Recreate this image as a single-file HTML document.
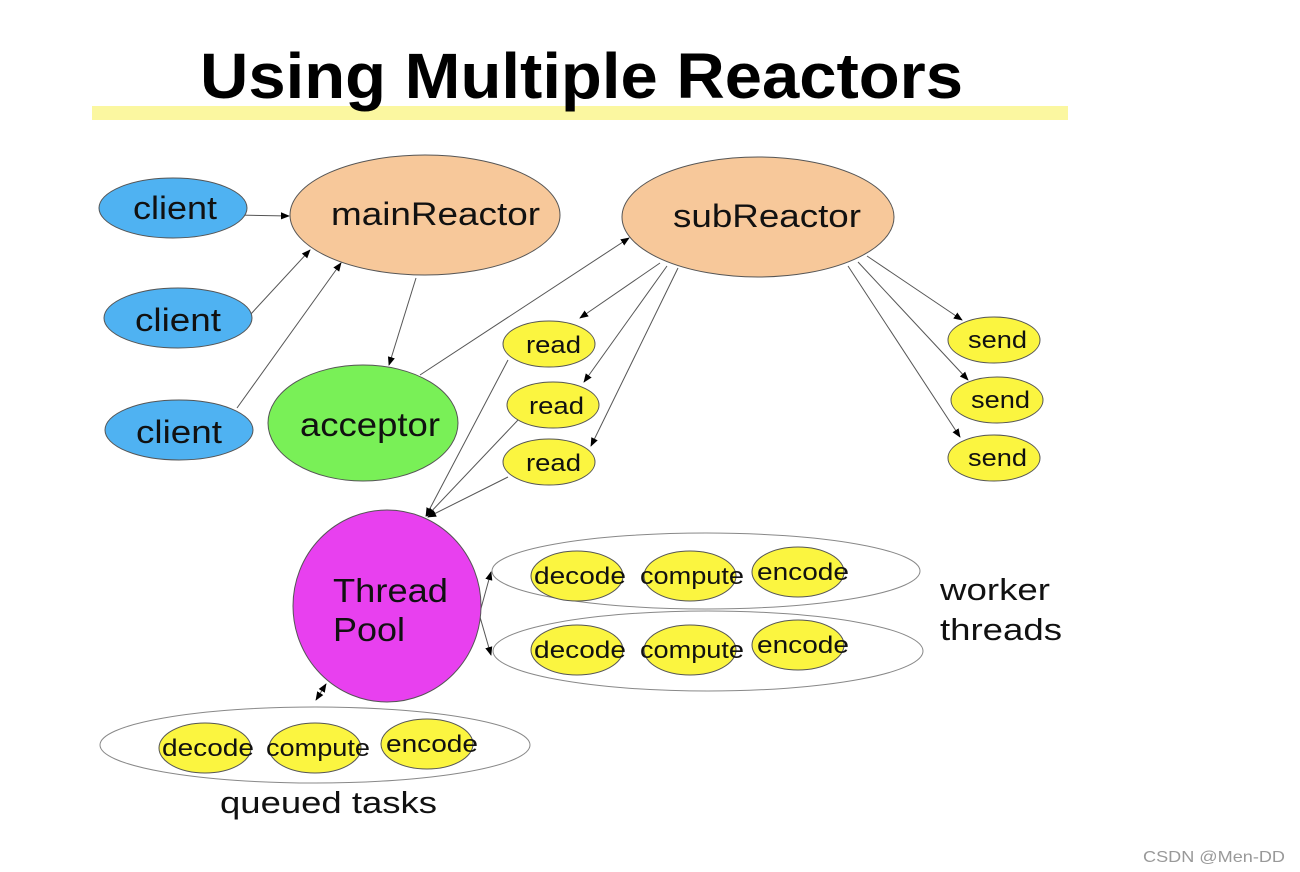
<!DOCTYPE html>
<html><head><meta charset="utf-8"><style>
html,body{margin:0;padding:0;background:#fff;}
svg{display:block;}
text{font-family:"Liberation Sans","DejaVu Sans",sans-serif;}
</style></head><body>
<svg width="1300" height="872" viewBox="0 0 1300 872" xmlns="http://www.w3.org/2000/svg">
<defs>
<marker id="a" viewBox="0 0 10 10" refX="9" refY="5" markerWidth="9" markerHeight="9" orient="auto-start-reverse" markerUnits="userSpaceOnUse">
<path d="M0,1 L10,5 L0,9 z" fill="#000"/></marker>
</defs>
<rect x="92" y="106" width="976" height="14" fill="#fbf7a0"/>
<text x="200" y="98" font-size="64" font-weight="bold" textLength="763" lengthAdjust="spacingAndGlyphs" fill="#000">Using Multiple Reactors</text>

<g stroke="#555" stroke-width="1" fill="none">
<line x1="235" y1="215" x2="289" y2="216" marker-end="url(#a)"/>
<line x1="250" y1="315" x2="310" y2="250" marker-end="url(#a)"/>
<line x1="237" y1="408" x2="341" y2="263" marker-end="url(#a)"/>
<line x1="416" y1="278" x2="389" y2="365" marker-end="url(#a)"/>
<line x1="420" y1="375" x2="629" y2="238" marker-end="url(#a)"/>
<line x1="660" y1="263" x2="580" y2="318" marker-end="url(#a)"/>
<line x1="667" y1="266" x2="584" y2="382" marker-end="url(#a)"/>
<line x1="678" y1="268" x2="591" y2="446" marker-end="url(#a)"/>
<line x1="508" y1="360" x2="426" y2="516" marker-end="url(#a)"/>
<line x1="518" y1="420" x2="427" y2="516" marker-end="url(#a)"/>
<line x1="508" y1="477" x2="428" y2="517" marker-end="url(#a)"/>
<line x1="867" y1="256" x2="962" y2="320" marker-end="url(#a)"/>
<line x1="858" y1="262" x2="968" y2="380" marker-end="url(#a)"/>
<line x1="848" y1="266" x2="960" y2="437" marker-end="url(#a)"/>
<line x1="480" y1="612" x2="491" y2="572" marker-end="url(#a)"/>
<line x1="480" y1="617" x2="491" y2="655" marker-end="url(#a)"/>
<line x1="326" y1="684" x2="316" y2="700" marker-end="url(#a)" marker-start="url(#a)"/>
</g>

<g stroke="#555" stroke-width="1">
<ellipse cx="173" cy="208" rx="74" ry="30" fill="#4fb2f2"/>
<ellipse cx="178" cy="318" rx="74" ry="30" fill="#4fb2f2"/>
<ellipse cx="179" cy="430" rx="74" ry="30" fill="#4fb2f2"/>
<ellipse cx="425" cy="215" rx="135" ry="60" fill="#f7c89a"/>
<ellipse cx="758" cy="217" rx="136" ry="60" fill="#f7c89a"/>
<ellipse cx="363" cy="423" rx="95" ry="58" fill="#79f057"/>
<ellipse cx="549" cy="344" rx="46" ry="23" fill="#fbf540"/>
<ellipse cx="553" cy="405" rx="46" ry="23" fill="#fbf540"/>
<ellipse cx="549" cy="462" rx="46" ry="23" fill="#fbf540"/>
<ellipse cx="994" cy="340" rx="46" ry="23" fill="#fbf540"/>
<ellipse cx="997" cy="400" rx="46" ry="23" fill="#fbf540"/>
<ellipse cx="994" cy="458" rx="46" ry="23" fill="#fbf540"/>
<ellipse cx="387" cy="606" rx="94" ry="96" fill="#e840ef"/>
<ellipse cx="706" cy="571" rx="214" ry="38" fill="#fff" stroke="#888"/>
<ellipse cx="708" cy="651" rx="215" ry="40" fill="#fff" stroke="#888"/>
<ellipse cx="315" cy="745" rx="215" ry="38" fill="#fff" stroke="#888"/>
<ellipse cx="577" cy="576" rx="46" ry="25" fill="#fbf540"/>
<ellipse cx="690" cy="576" rx="46" ry="25" fill="#fbf540"/>
<ellipse cx="798" cy="572" rx="46" ry="25" fill="#fbf540"/>
<ellipse cx="577" cy="650" rx="46" ry="25" fill="#fbf540"/>
<ellipse cx="690" cy="650" rx="46" ry="25" fill="#fbf540"/>
<ellipse cx="798" cy="645" rx="46" ry="25" fill="#fbf540"/>
<ellipse cx="205" cy="748" rx="46" ry="25" fill="#fbf540"/>
<ellipse cx="315" cy="748" rx="46" ry="25" fill="#fbf540"/>
<ellipse cx="427" cy="744" rx="46" ry="25" fill="#fbf540"/>
</g>

<g fill="#111" lengthAdjust="spacingAndGlyphs">
<text x="133" y="219" font-size="32" textLength="84" lengthAdjust="spacingAndGlyphs">client</text>
<text x="135" y="331" font-size="32" textLength="86" lengthAdjust="spacingAndGlyphs">client</text>
<text x="136" y="443" font-size="32" textLength="86" lengthAdjust="spacingAndGlyphs">client</text>
<text x="331" y="225" font-size="32" textLength="209" lengthAdjust="spacingAndGlyphs">mainReactor</text>
<text x="673" y="227" font-size="32" textLength="188" lengthAdjust="spacingAndGlyphs">subReactor</text>
<text x="300" y="436" font-size="33" textLength="140" lengthAdjust="spacingAndGlyphs">acceptor</text>
<text x="526" y="353" font-size="24" textLength="55" lengthAdjust="spacingAndGlyphs">read</text>
<text x="529" y="414" font-size="24" textLength="55" lengthAdjust="spacingAndGlyphs">read</text>
<text x="526" y="471" font-size="24" textLength="55" lengthAdjust="spacingAndGlyphs">read</text>
<text x="968" y="348" font-size="24" textLength="59" lengthAdjust="spacingAndGlyphs">send</text>
<text x="971" y="408" font-size="24" textLength="59" lengthAdjust="spacingAndGlyphs">send</text>
<text x="968" y="466" font-size="24" textLength="59" lengthAdjust="spacingAndGlyphs">send</text>
<text x="333" y="602" font-size="33" textLength="115" lengthAdjust="spacingAndGlyphs">Thread</text>
<text x="333" y="641" font-size="33" textLength="72" lengthAdjust="spacingAndGlyphs">Pool</text>
<g font-size="24">
<text x="534" y="584" textLength="92" lengthAdjust="spacingAndGlyphs">decode</text>
<text x="640" y="584" textLength="104" lengthAdjust="spacingAndGlyphs">compute</text>
<text x="757" y="580" textLength="92" lengthAdjust="spacingAndGlyphs">encode</text>
<text x="534" y="658" textLength="92" lengthAdjust="spacingAndGlyphs">decode</text>
<text x="640" y="658" textLength="104" lengthAdjust="spacingAndGlyphs">compute</text>
<text x="757" y="653" textLength="92" lengthAdjust="spacingAndGlyphs">encode</text>
<text x="162" y="756" textLength="92" lengthAdjust="spacingAndGlyphs">decode</text>
<text x="266" y="756" textLength="104" lengthAdjust="spacingAndGlyphs">compute</text>
<text x="386" y="752" textLength="92" lengthAdjust="spacingAndGlyphs">encode</text>
</g>
<text x="940" y="600" font-size="31" textLength="110" lengthAdjust="spacingAndGlyphs">worker</text>
<text x="940" y="640" font-size="31" textLength="122" lengthAdjust="spacingAndGlyphs">threads</text>
<text x="220" y="813" font-size="31" textLength="217" lengthAdjust="spacingAndGlyphs">queued tasks</text>
</g>
<text x="1143" y="862" font-size="16" fill="#999" textLength="142" lengthAdjust="spacingAndGlyphs">CSDN @Men-DD</text>
</svg>
</body></html>
